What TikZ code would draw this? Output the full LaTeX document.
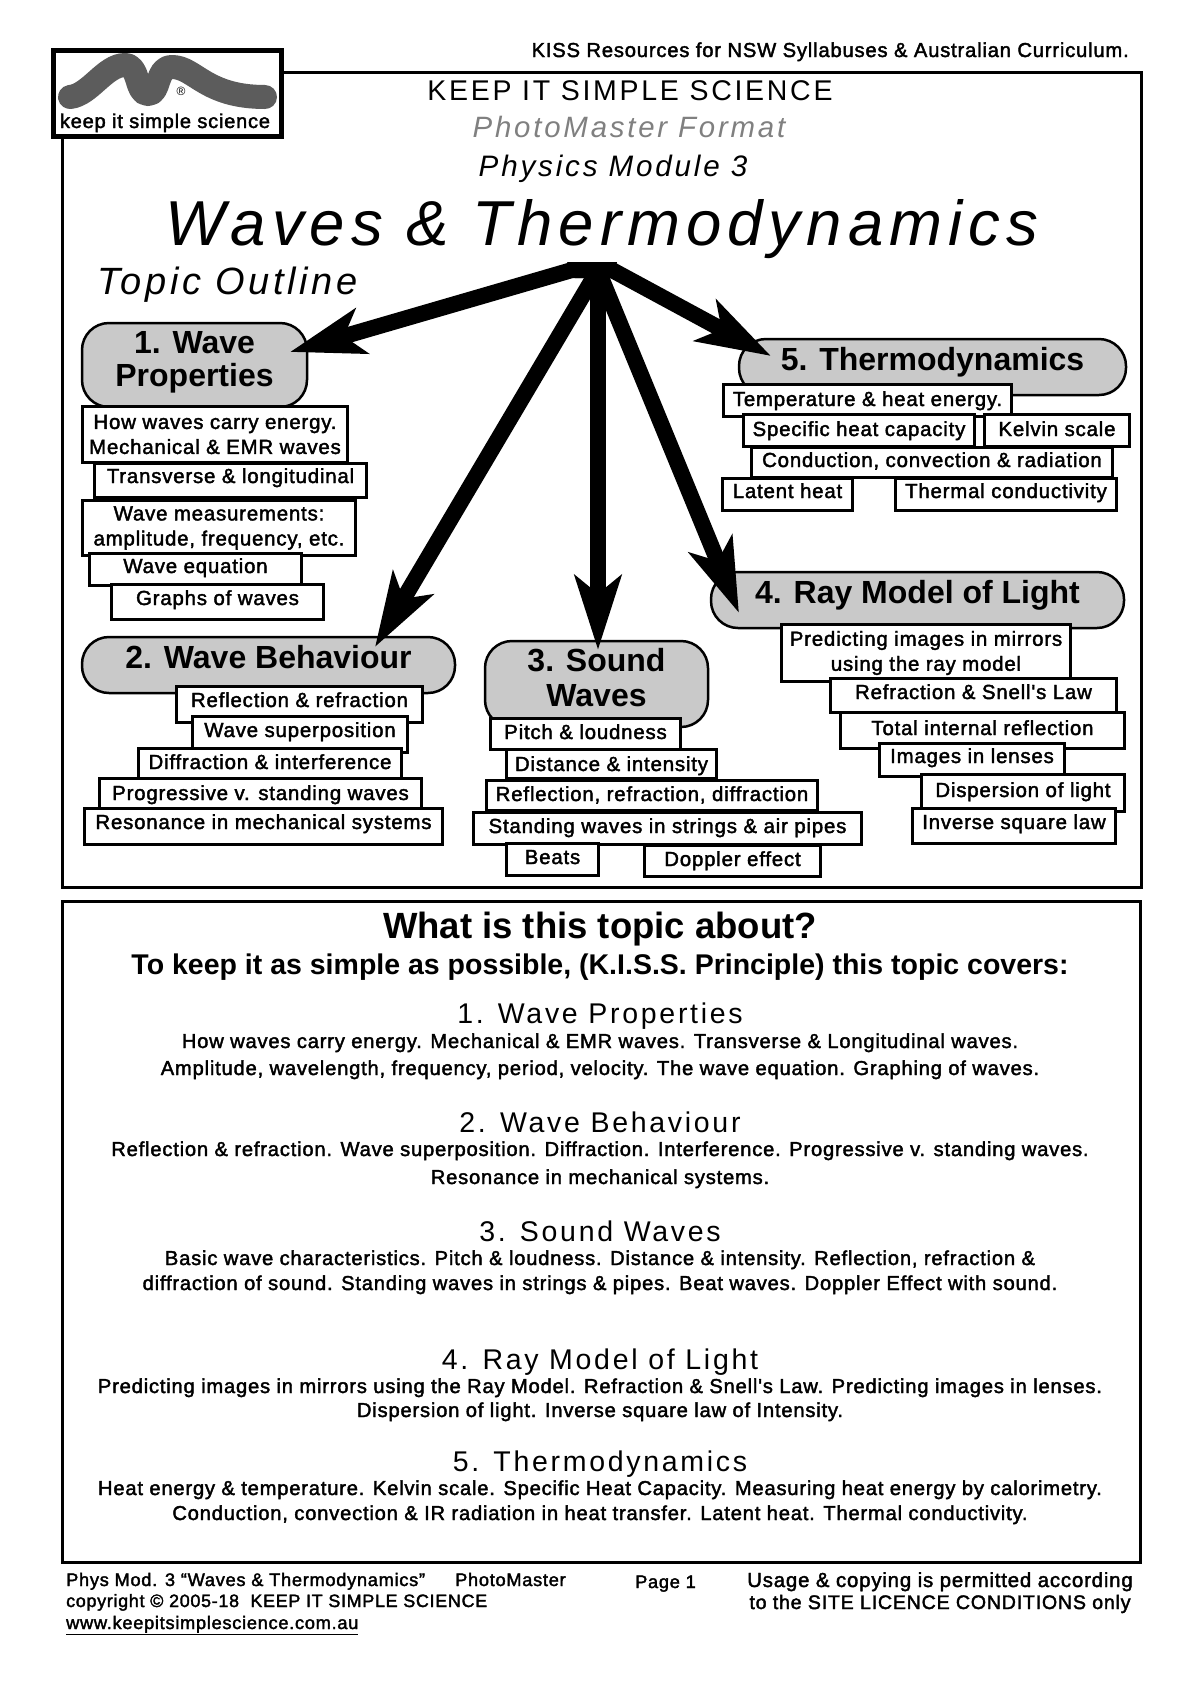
\documentclass[tikz,border=0pt]{standalone}
\usepackage{fontspec}
\setmainfont{Liberation Sans}
\newfontfamily\spacefont[LetterSpace=9.5]{Liberation Sans}
\newfontfamily\boxfont[LetterSpace=4,FakeBold=2]{Liberation Sans}
\usetikzlibrary{arrows.meta,positioning}
\definecolor{topicgray}{gray}{0.79}
\definecolor{logogray}{gray}{0.36}
\newcommand{\boxtext}{\boxfont\fontsize{20.4}{25}\selectfont}
\newcommand{\bodytext}{\boxfont\fontsize{20.15}{25}\selectfont}
\newcommand{\topictext}{\bfseries\fontsize{32}{33}\selectfont}
\newcommand{\headtext}{\spacefont\fontsize{28.5}{30}\selectfont}
\newcommand{\foottext}{\boxfont\fontsize{18.2}{22}\selectfont}
\newcommand{\usagetext}{\boxfont\fontsize{20.4}{22}\selectfont}
\tikzset{
  frame/.style={draw,line width=3pt},
  topicbox/.style n args={3}{draw,line width=2.5pt,fill=topicgray,rounded corners=27pt,inner sep=0pt,outer sep=0pt,
    anchor=north west,font=\topictext,minimum width=#1pt,text height=#2pt,text depth=#3pt},
  topictwo/.style n args={2}{draw,line width=2.5pt,fill=topicgray,rounded corners=27pt,inner sep=0pt,outer sep=0pt,
    anchor=north west,font=\topictext,align=center,minimum width=#1pt,minimum height=#2pt,text depth=13pt},
  subbox/.style n args={3}{draw,line width=3pt,fill=white,inner sep=0pt,outer sep=0pt,anchor=north west,
    font=\boxtext,minimum width=#1pt,text height=#2pt,text depth=#3pt},
  subtwo/.style n args={2}{draw,line width=3pt,fill=white,inner sep=0pt,outer sep=0pt,anchor=north west,
    font=\boxtext,align=center,minimum width=#1pt,minimum height=#2pt},
  bodyline/.style={anchor=base,font=\bodytext,inner sep=0pt},
  headline/.style={anchor=base,font=\headtext,inner sep=0pt},
  footline/.style={anchor=base west,font=\foottext,inner sep=0pt},
  fatarrow/.style={line width=16pt,-{Stealth[length=74pt,width=46pt,inset=18pt]}}
}
\begin{document}
\begin{tikzpicture}[x=1pt,y=-1pt]
    \useasboundingbox (0,0) rectangle (1200,1698);
    % Frames
    \draw[frame] (62,72) rectangle (1141,887);
    \draw[frame] (62,901) rectangle (1140,1562);
    % Logo
    \draw[line width=5pt,fill=white] (53,50) rectangle (281,136);
    \draw[logogray,line width=24pt,line cap=round,line join=round]
      (70,97) .. controls (90,95) and (105,65) .. (125,65)
      .. controls (140,65) and (135,94) .. (148,94)
      .. controls (161,94) and (155,67) .. (172,67)
      .. controls (195,67) and (205,97) .. (265,97);
    \node[font=\fontsize{12}{12}\selectfont,inner sep=0pt] (regmark) at (181,91) {®};
    \node[anchor=base,font=\boxfont\fontsize{20}{22}\selectfont,inner sep=0pt] (logotext) at (165,128) {keep it simple science};
    % Header and title
    \node[anchor=base east,font=\boxfont\fontsize{20.2}{22}\selectfont,inner sep=0pt] (kiss) at (1129,57) {KISS Resources for NSW Syllabuses \& Australian Curriculum.};
    \node[headline] (keep) at (630,100) {KEEP IT SIMPLE SCIENCE};
    \node[headline,font=\spacefont\itshape\fontsize{29.4}{30}\selectfont,text=black!50] (photo) at (629,137) {PhotoMaster Format};
    \node[headline,font=\spacefont\itshape\fontsize{29.6}{30}\selectfont] (module) at (613,176) {Physics Module 3};
    \node[headline,font=\spacefont\itshape\fontsize{63.5}{66}\selectfont] (title) at (602,245) {Waves \& Thermodynamics};
    \node[anchor=base west,font=\spacefont\itshape\fontsize{38}{40}\selectfont,inner sep=0pt] (outline) at (97,294) {Topic Outline};
    % Topic boxes
    \node[topictwo={225}{84}] (topicone) at (82,323) {1. Wave\\Properties};
    \node[topicbox={373}{31}{25}] (topictwo) at (82,637) {2. Wave Behaviour};
    \node[topictwo={223}{86}] (topicthree) at (485,641) {3. Sound\\[2pt]Waves};
    \node[topicbox={413}{31}{25}] (topicfour) at (711,572) {4. Ray Model of Light};
    \node[topicbox={387}{31}{25}] (topicfive) at (739,339) {5. Thermodynamics};
    % Arrows
    \coordinate (hub) at (598,270);
    \coordinate (tipone) at (290,352);
    \coordinate (tiptwo) at (375,647);
    \coordinate (tipthree) at (598,650);
    \coordinate (tipfour) at (739,613);
    \coordinate (tipfive) at (771,356);
    \fill (567,262) -- (617,262) -- (612,278) -- (575,278) -- cycle;
    \draw[fatarrow] (hub) -- (572,270) -- (tipone);
    \draw[fatarrow] (hub) -- (tiptwo);
    \draw[fatarrow] (hub) -- (tipthree);
    \draw[fatarrow] (hub) -- (tipfour);
    \draw[fatarrow] (hub) -- (612,270) -- (tipfive);
    % Wave properties items
    \node[subtwo={265}{56}] (howwaves) at (82.5,406.5) {How waves carry energy.\\Mechanical \& EMR waves};
    \node[subbox={272}{19.5}{14.5}] (transverse) at (94.5,463.5) {Transverse \& longitudinal};
    \node[subtwo={273}{55}] (measure) at (82.5,500.5) {Wave measurements:\\amplitude, frequency, etc.};
    \node[subbox={212}{19.5}{12.5}] (equation) at (89.5,553.5) {Wave equation};
    \node[subbox={212}{20.5}{14.5}] (graphs) at (111.5,584.5) {Graphs of waves};
    % Wave behaviour items
    \node[subbox={246}{20.5}{15.5}] (reflect) at (176.5,686.5) {Reflection \& refraction};
    \node[subbox={215}{20.5}{15.5}] (superpos) at (192.5,716.5) {Wave superposition};
    \node[subbox={263}{20.5}{14.5}] (diffract) at (138.5,748.5) {Diffraction \& interference};
    \node[subbox={322}{21.5}{8.5}] (progress) at (99.5,778.5) {Progressive v. standing waves};
    \node[subbox={358}{20.5}{15.5}] (resonance) at (84.5,808.5) {Resonance in mechanical systems};
    % Sound items
    \node[subbox={190}{20.5}{10.5}] (pitch) at (490.5,718.5) {Pitch \& loudness};
    \node[subbox={210}{21.5}{7.5}] (distance) at (506.5,749.5) {Distance \& intensity};
    \node[subbox={331}{20.5}{9.5}] (soundrefl) at (486.5,780.5) {Reflection, refraction, diffraction};
    \node[subbox={388}{20.5}{11.5}] (standing) at (473.5,812.5) {Standing waves in strings \& air pipes};
    \node[subbox={92}{20.5}{11.5}] (beats) at (506.5,843.5) {Beats};
    \node[subbox={176}{20.5}{10.5}] (doppler) at (644.5,845.5) {Doppler effect};
    % Ray model items
    \node[subtwo={289}{57}] (mirrors) at (781.5,624.5) {Predicting images in mirrors\\using the ray model};
    \node[subbox={286}{20.5}{13.5}] (snell) at (830.5,678.5) {Refraction \& Snell's Law};
    \node[subbox={284}{22.5}{13.5}] (internal) at (840.5,712.5) {Total internal reflection};
    \node[subbox={185}{19.5}{13.5}] (lenses) at (879.5,743.5) {Images in lenses};
    \node[subbox={203}{22.5}{14.5}] (dispersion) at (921.5,774.5) {Dispersion of light};
    \node[subbox={203}{20.5}{14.5}] (inverse) at (912.5,808.5) {Inverse square law};
    % Thermodynamics items
    \node[subbox={288}{21.5}{10.5}] (temperature) at (723.5,384.5) {Temperature \& heat energy.};
    \node[subbox={231}{21.5}{10.5}] (specific) at (743.5,414.5) {Specific heat capacity};
    \node[subbox={145}{21.5}{10.5}] (kelvin) at (984.5,414.5) {Kelvin scale};
    \node[subbox={361}{19.5}{10.5}] (conduction) at (751.5,447.5) {Conduction, convection \& radiation};
    \node[subbox={130}{19.5}{12.5}] (latent) at (722.5,478.5) {Latent heat};
    \node[subbox={221}{19.5}{12.5}] (thermal) at (895.5,478.5) {Thermal conductivity};
    % Lower panel
    \node[anchor=base,font=\bfseries\fontsize{36.5}{38}\selectfont,inner sep=0pt] (about) at (600,938) {What is this topic about?};
    \node[anchor=base,font=\bfseries\fontsize{28.5}{30}\selectfont,inner sep=0pt] (covers) at (600,974) {To keep it as simple as possible, (K.I.S.S. Principle) this topic covers:};
    \node[headline] (headone) at (600,1023) {1. Wave Properties};
    \node[bodyline] (oneb) at (600,1048) {How waves carry energy. Mechanical \& EMR waves. Transverse \& Longitudinal waves.};
    \node[bodyline] (onec) at (600,1075) {Amplitude, wavelength, frequency, period, velocity. The wave equation. Graphing of waves.};
    \node[headline] (headtwo) at (600,1132) {2. Wave Behaviour};
    \node[bodyline] (twob) at (600,1156) {Reflection \& refraction. Wave superposition. Diffraction. Interference. Progressive v. standing waves.};
    \node[bodyline] (twoc) at (600,1184) {Resonance in mechanical systems.};
    \node[headline] (headthree) at (600,1241) {3. Sound Waves};
    \node[bodyline] (threeb) at (600,1265) {Basic wave characteristics. Pitch \& loudness. Distance \& intensity. Reflection, refraction \&};
    \node[bodyline] (threec) at (600,1290) {diffraction of sound. Standing waves in strings \& pipes. Beat waves. Doppler Effect with sound.};
    \node[headline] (headfour) at (600,1369) {4. Ray Model of Light};
    \node[bodyline] (fourb) at (600,1393) {Predicting images in mirrors using the Ray Model. Refraction \& Snell's Law. Predicting images in lenses.};
    \node[bodyline] (fourc) at (600,1417) {Dispersion of light. Inverse square law of Intensity.};
    \node[headline] (headfive) at (600,1471) {5. Thermodynamics};
    \node[bodyline] (fiveb) at (600,1495) {Heat energy \& temperature. Kelvin scale. Specific Heat Capacity. Measuring heat energy by calorimetry.};
    \node[bodyline] (fivec) at (600,1520) {Conduction, convection \& IR radiation in heat transfer. Latent heat. Thermal conductivity.};
    % Footer
    \node[footline] (footone) at (66,1586) {Phys Mod. 3 “Waves \& Thermodynamics”};
    \node[footline] (footphoto) at (455,1586) {PhotoMaster};
    \node[footline,font=\boxfont\fontsize{17.9}{22}\selectfont] (foottwo) at (66,1607) {copyright © 2005-18\ \ KEEP IT SIMPLE SCIENCE};
    \node[footline] (footurl) at (66,1629) {\underline{www.keepitsimplescience.com.au}};
    \node[footline] (footpage) at (635,1588) {Page 1};
    \node[anchor=base,font=\usagetext,inner sep=0pt] (usage) at (940,1587) {Usage \& copying is permitted according};
    \node[anchor=base,font=\boxfont\fontsize{19.6}{22}\selectfont,inner sep=0pt] (licence) at (940,1609) {to the SITE LICENCE CONDITIONS only};
\end{tikzpicture}
\end{document}
